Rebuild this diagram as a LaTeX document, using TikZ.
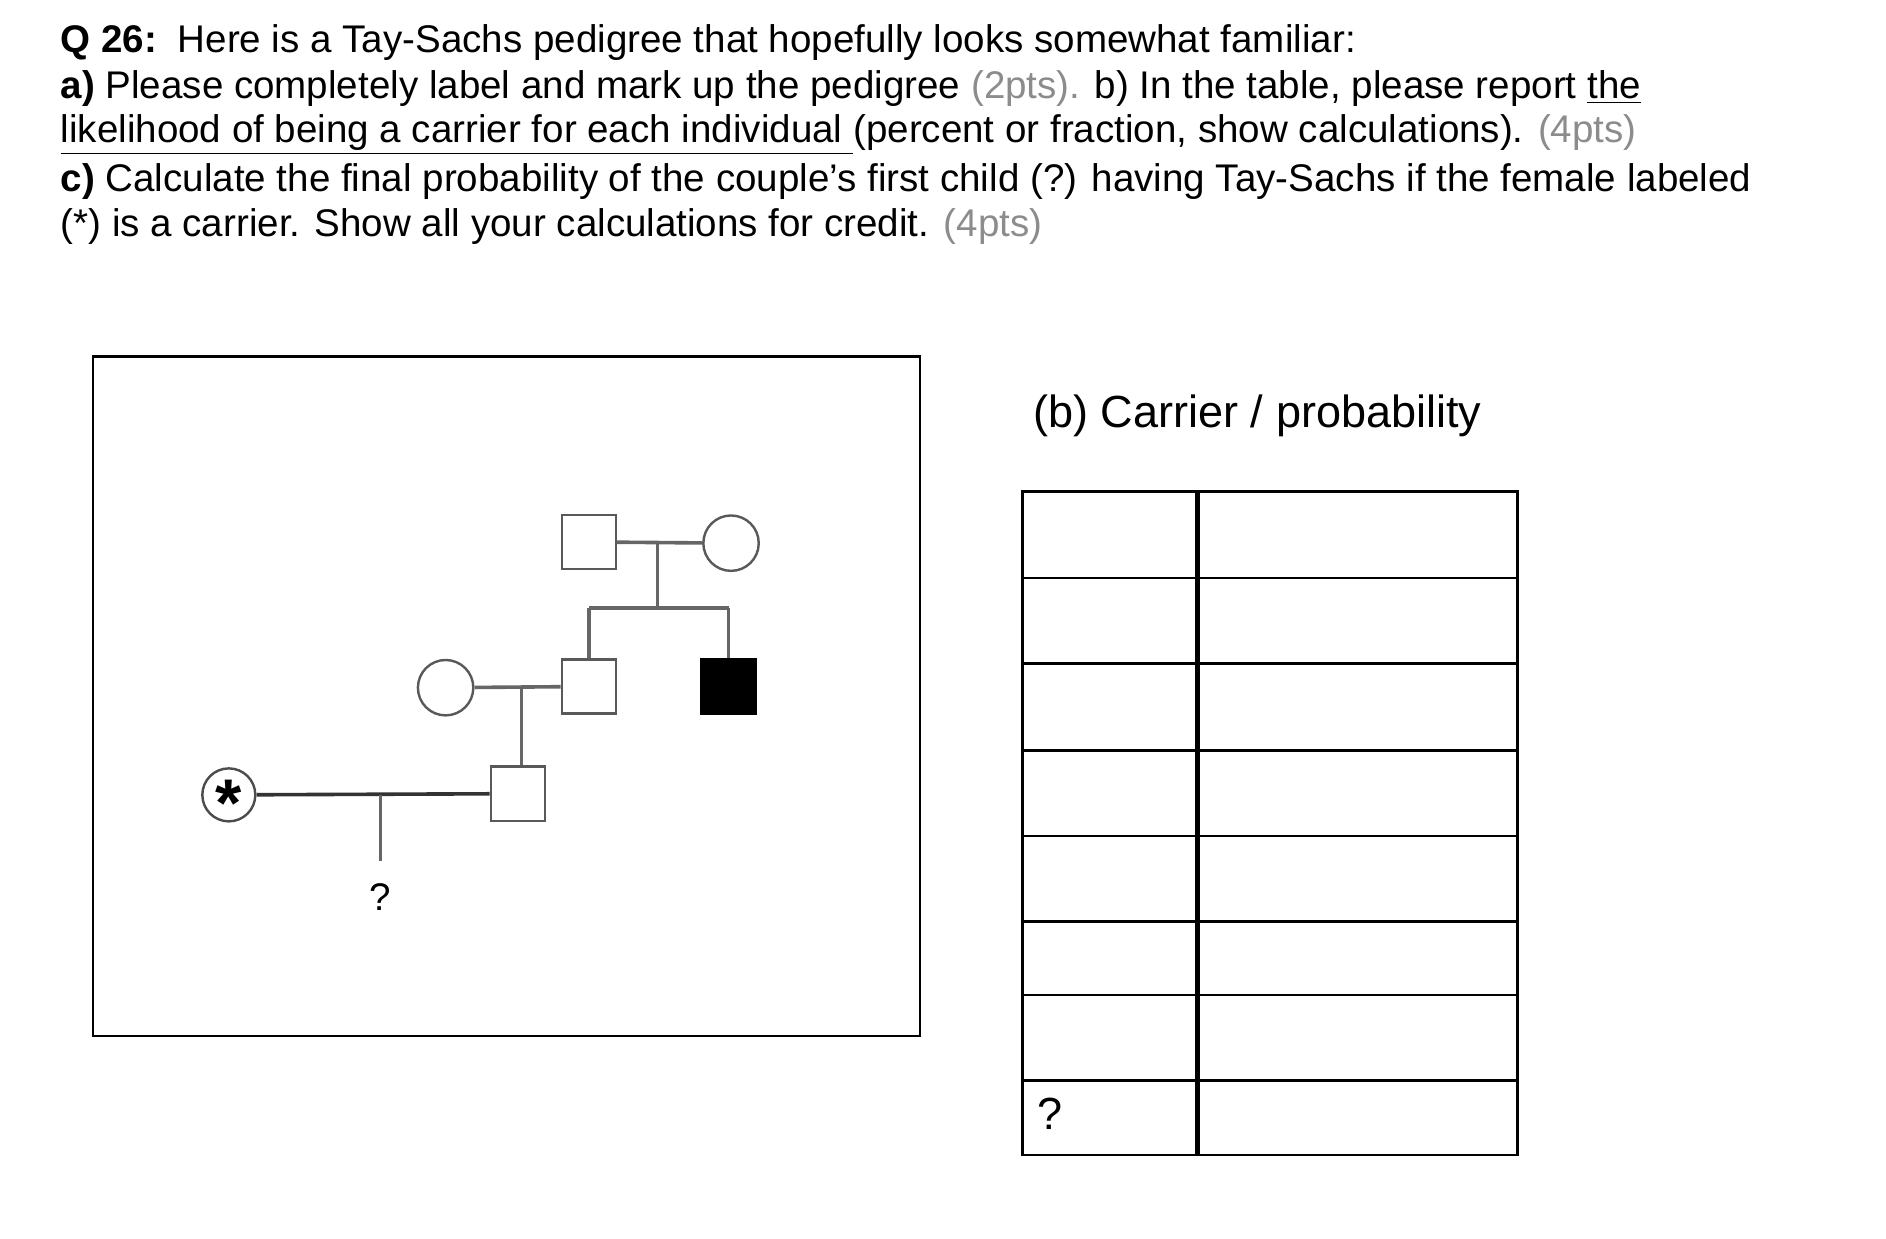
\documentclass[tikz,border=0pt]{standalone}
\usepackage{fontspec}
\setmainfont{Liberation Sans}
\begin{document}
\begin{tikzpicture}[x=0.5pt,y=-0.5pt,
  ln/.style={line width=1.5pt,draw=black!60},
  ind/.style={draw=black!65,line width=1pt,fill=white,inner sep=0pt,minimum size=22.5pt},
  sq/.style={ind,rectangle},
  ci/.style={ind,circle},
  tl/.style={anchor=base west,inner sep=0pt,font=\fontsize{16}{18}\selectfont}]
\useasboundingbox (0,0) rectangle (1566,1028);
\node[tl] (l1) at (50,44) {\textbf{Q 26:}\, Here is a Tay-Sachs pedigree that hopefully looks somewhat familiar:};
\node[tl] (l2) at (50,82) {\textbf{a)} Please completely label and mark up the pedigree \textcolor{black!45}{(2pts).} b) In the table, please report \underline{the}};
\node[tl] (l3) at (50,118) {\underline{likelihood of being a carrier for each individual }(percent or fraction, show calculations). \textcolor{black!45}{(4pts)}};
\node[tl] (l4) at (50,159) {\textbf{c)} Calculate the final probability of the couple's first child (?) having Tay-Sachs if the female labeled};
\node[tl] (l5) at (50,196) {(*) is a carrier. Show all your calculations for credit. \textcolor{black!45}{(4pts)}};
% pedigree frame
\draw[line width=1pt] (77,296) rectangle (764,860);
% individuals
\node[sq] (gf) at (489,450) {};
\node[ci,minimum size=23pt] (gm) at (607,451) {};
\node[sq] (fa) at (489,570) {};
\node[sq,fill=black,draw=black] (af) at (605,570) {};
\node[ci,minimum size=23pt] (mo) at (370,571) {};
\node[sq] (so) at (430,659) {};
\node[ci,minimum size=22pt,draw=black!70] (st) at (190,660) {};
\node[font=\fontsize{28}{28}\selectfont\bfseries,inner sep=0pt] (sts) at (190,667) {*};
\coordinate (m1) at (546,451);
\coordinate (s1) at (546,505);
\coordinate (m2) at (433,571);
\coordinate (m3) at (316,660);
\coordinate (ch) at (316,715);
\draw[ln] (gf) -- (gm);
\draw[ln] (m1) -- (s1);
\draw[ln] (fa.north |- s1) -- (af.north |- s1);
\draw[ln] (fa.north |- s1) -- (fa.north);
\draw[ln] (af.north |- s1) -- (af.north);
\draw[ln] (mo) -- (fa);
\draw[ln] (m2) -- (so.north -| m2);
\draw[ln,draw=black!80] (st) -- (so);
\draw[ln] (m3) -- (ch);
\node[font=\fontsize{16}{16}\selectfont] (q) at (316,745) {?};
% table
\node[anchor=base,font=\fontsize{18.7}{20}\selectfont,inner sep=0pt] (bt) at (1044,355) {(b) Carrier / probability};
\foreach \y in {480,551,623,694,765,826,897} \draw[line width=1pt] (849,\y) -- (1260,\y);
\draw[line width=1pt] (849,408) rectangle (1260,959);
\draw[line width=2pt] (994,408) -- (994,959);
\node[font=\fontsize{18.7}{20}\selectfont] (tq) at (872,925) {?};
\end{tikzpicture}
\end{document}
